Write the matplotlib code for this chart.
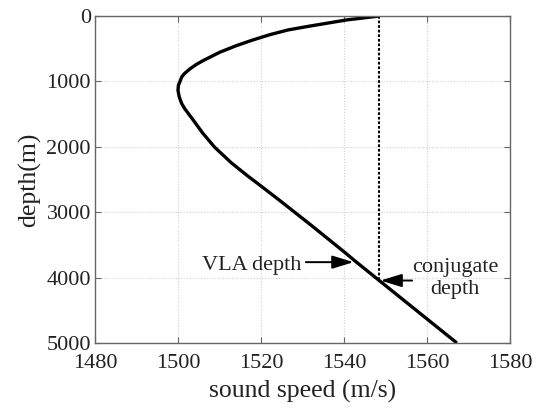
import matplotlib
matplotlib.use("Agg")
import matplotlib.pyplot as plt

plt.rcParams['font.family'] = ['Liberation Serif', 'DejaVu Serif']

# data
depth_m = [0, 60, 160, 213, 284, 365, 452, 553, 680, 741, 807, 883, 933, 1060, 1137,
           1237, 1339, 1415, 1492, 1593, 1786, 2004, 2242, 2446, 2600, 2800, 3000,
           3200, 3400, 3600, 3764, 4045, 4500, 5000]
speed_ms = [1548.5, 1540.6, 1531.2, 1526.5, 1522.2, 1518.1, 1514.1, 1510.1, 1506.1,
            1504.4, 1502.9, 1501.5, 1500.9, 1500.1, 1500.0, 1500.3, 1500.9, 1501.6,
            1502.5, 1503.7, 1505.9, 1508.8, 1512.8, 1516.8, 1520.0, 1524.1, 1528.1,
            1532.1, 1536.0, 1539.9, 1543.0, 1548.5, 1557.4, 1567.2]
vla_depth = 3764
conj_depth = 4045
surface_speed = speed_ms[0]
x_ticks = [1480, 1500, 1520, 1540, 1560, 1580]
y_ticks = [0, 1000, 2000, 3000, 4000, 5000]

fig = plt.figure(figsize=(5.5, 4.11), dpi=100)
ax = fig.add_axes([0.1727, 0.1655, 0.7546, 0.7955])

ax.plot(speed_ms, depth_m, color='black', lw=2.4, solid_capstyle='butt',
        solid_joinstyle='round')
ax.plot([surface_speed, surface_speed], [0, conj_depth], color='black',
        lw=1.5, linestyle=(0, (1.3, 0.9)))

ax.set_xlim(1480, 1580)
ax.set_ylim(5000, 0)
ax.set_xticks(x_ticks)
ax.set_yticks(y_ticks)
ax.grid(True, color='#d0d0d0', linestyle=(0, (1, 1.5)), lw=0.8)
ax.set_axisbelow(True)
for s in ax.spines.values():
    s.set_color('#666666')
    s.set_linewidth(1.0)
ax.tick_params(direction='in', top=True, right=True, length=4, color='#666666',
               labelsize=16, labelcolor='#222222')
ax.tick_params(axis='x', pad=8)
ax.tick_params(axis='y', pad=3)
ax.set_xlabel('sound speed (m/s)', fontsize=18.5, color='#222222', labelpad=5)
ax.set_ylabel('depth(m)', fontsize=18.5, color='#222222', labelpad=4)

arrow_kw = dict(arrowstyle='-|>,head_length=1.3,head_width=0.4', color='black',
                lw=1.4, shrinkA=0, shrinkB=0)
ax.annotate('', xy=(1542.3, vla_depth), xytext=(1530.8, vla_depth), arrowprops=arrow_kw)
ax.text(1529.8, vla_depth + 50, 'VLA depth', ha='right', va='center', fontsize=16,
        color='#222222')
ax.annotate('', xy=(1548.8, conj_depth), xytext=(1556.4, conj_depth), arrowprops=arrow_kw)
ax.text(1566.7, 4010, 'conjugate\ndepth', ha='center', va='center', fontsize=16,
        color='#222222', linespacing=1.2)

fig.savefig('out.png', dpi=100)
